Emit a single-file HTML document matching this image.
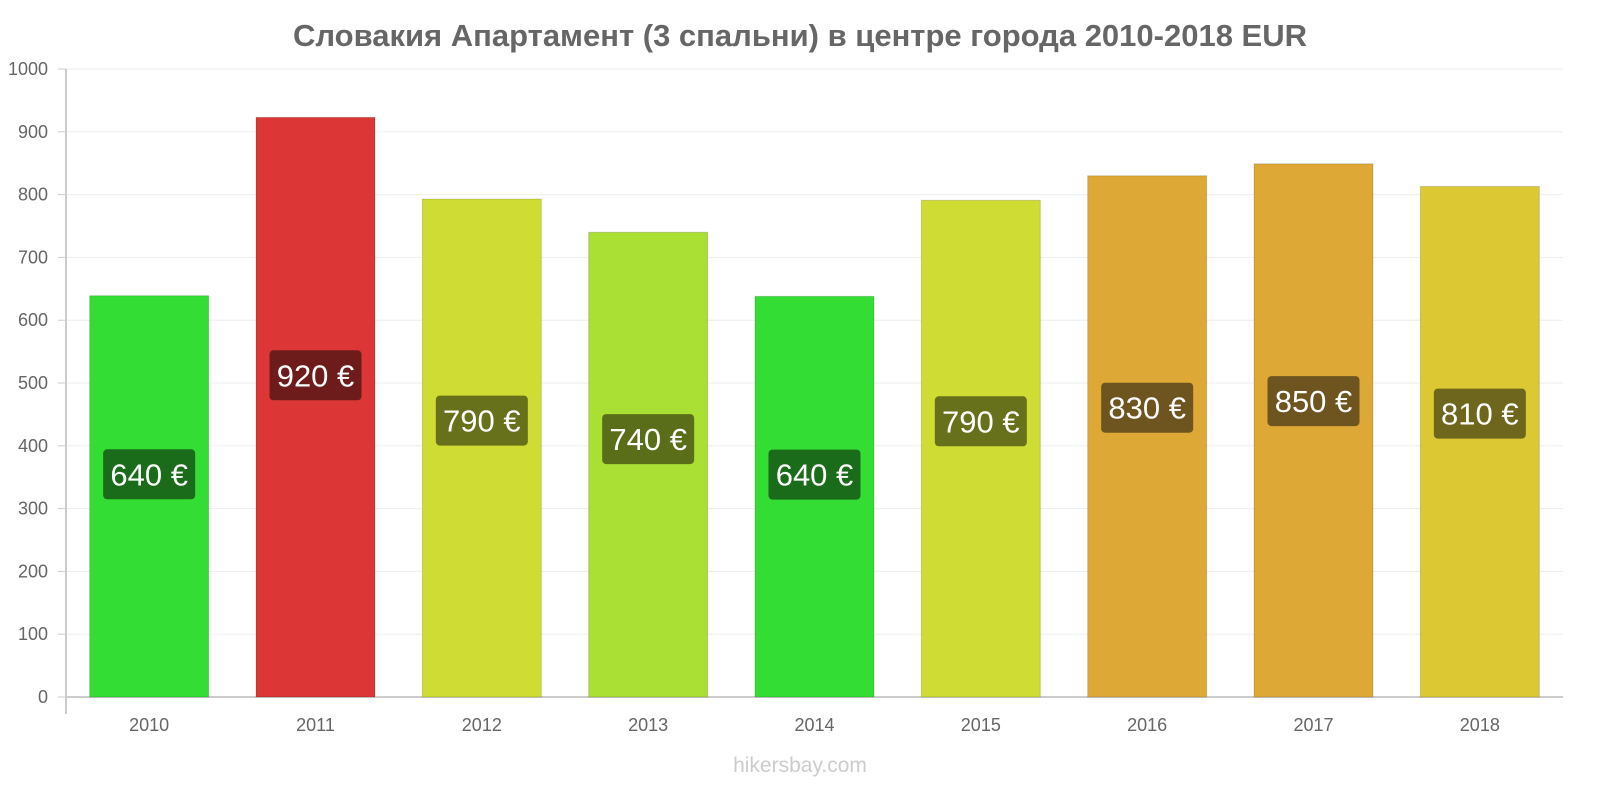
<!DOCTYPE html>
<html><head><meta charset="utf-8"><style>
body{margin:0;background:#fff;width:1600px;height:800px;overflow:hidden;font-family:"Liberation Sans",sans-serif}
</style></head><body>
<svg id="c" width="1600" height="800" xmlns="http://www.w3.org/2000/svg">
<text x="800" y="46" text-anchor="middle" font-size="31" font-weight="bold" fill="#666">Словакия Апартамент (3 спальни) в центре города 2010-2018 EUR</text>
<text x="800" y="772" text-anchor="middle" font-size="21" fill="#ccc">hikersbay.com</text>
</svg>
<script>
const categories=["2010","2011","2012","2013","2014","2015","2016","2017","2018"];
const values=[639,923,793,740,638,791,830,849,813];
const labels=["640 €","920 €","790 €","740 €","640 €","790 €","830 €","850 €","810 €"];
const yTicks=[0,100,200,300,400,500,600,700,800,900,1000];
const fills=["#33dd33","#dd3636","#cedc33","#aadf33","#33dd33","#cedc33","#dda835","#dda835","#dcc833"];
const labelBg=["#1a6b1a","#6e1b1b","#67701a","#5a6e1a","#1a6b1a","#67701a","#6e5520","#6e5520","#6e661c"];
const svg=document.getElementById('c');
const NS="http://www.w3.org/2000/svg";
const x0=66,x1=1563,y0=697,y1=69;
const y=v=>y0-(v/1000)*(y0-y1);
const bw=(x1-x0)/categories.length;
const xc=i=>x0+bw*(i+0.5);
function mk(t,a,p){const e=document.createElementNS(NS,t);for(const k in a)e.setAttribute(k,a[k]);(p||svg).appendChild(e);return e;}
yTicks.forEach(t=>{
 const g=mk('line',{x1:x0,x2:x1,y1:y(t),y2:y(t),stroke:t===0?'#ccc':'#eee','stroke-width':t===0?2:1});
 
 
 const tk=mk('line',{x1:x0-8,x2:x0,y1:y(t),y2:y(t),stroke:'#ccc'});
 
 
 const l=mk('text',{x:48,y:y(t)+6,'text-anchor':'end','font-size':18,fill:'#666'});
 l.textContent=t;
 
 
});
const ax=mk('line',{x1:x0,x2:x0,y1:y1,y2:y0+17,stroke:'#ccc','stroke-width':2});


categories.forEach((c,i)=>{
 const w=119,xx=xc(i)-w/2;
 const r=mk('rect',{x:xx,y:y(values[i]),width:w,height:y0-y(values[i]),fill:fills[i],stroke:'rgba(0,0,0,0.15)'});
 
 
 const ly=y(values[i]*0.555);
 const b=mk('rect',{x:xc(i)-46,y:ly-25,width:92,height:50,rx:4,fill:labelBg[i]});
 
 
 const t=mk('text',{x:xc(i),y:ly+11,'text-anchor':'middle','font-size':31,fill:'#fff'});
 t.textContent=labels[i];
 
 
 const xl=mk('text',{x:xc(i),y:731,'text-anchor':'middle','font-size':18,fill:'#666'});
 xl.textContent=c;
 
 
});
</script>
</body></html>
